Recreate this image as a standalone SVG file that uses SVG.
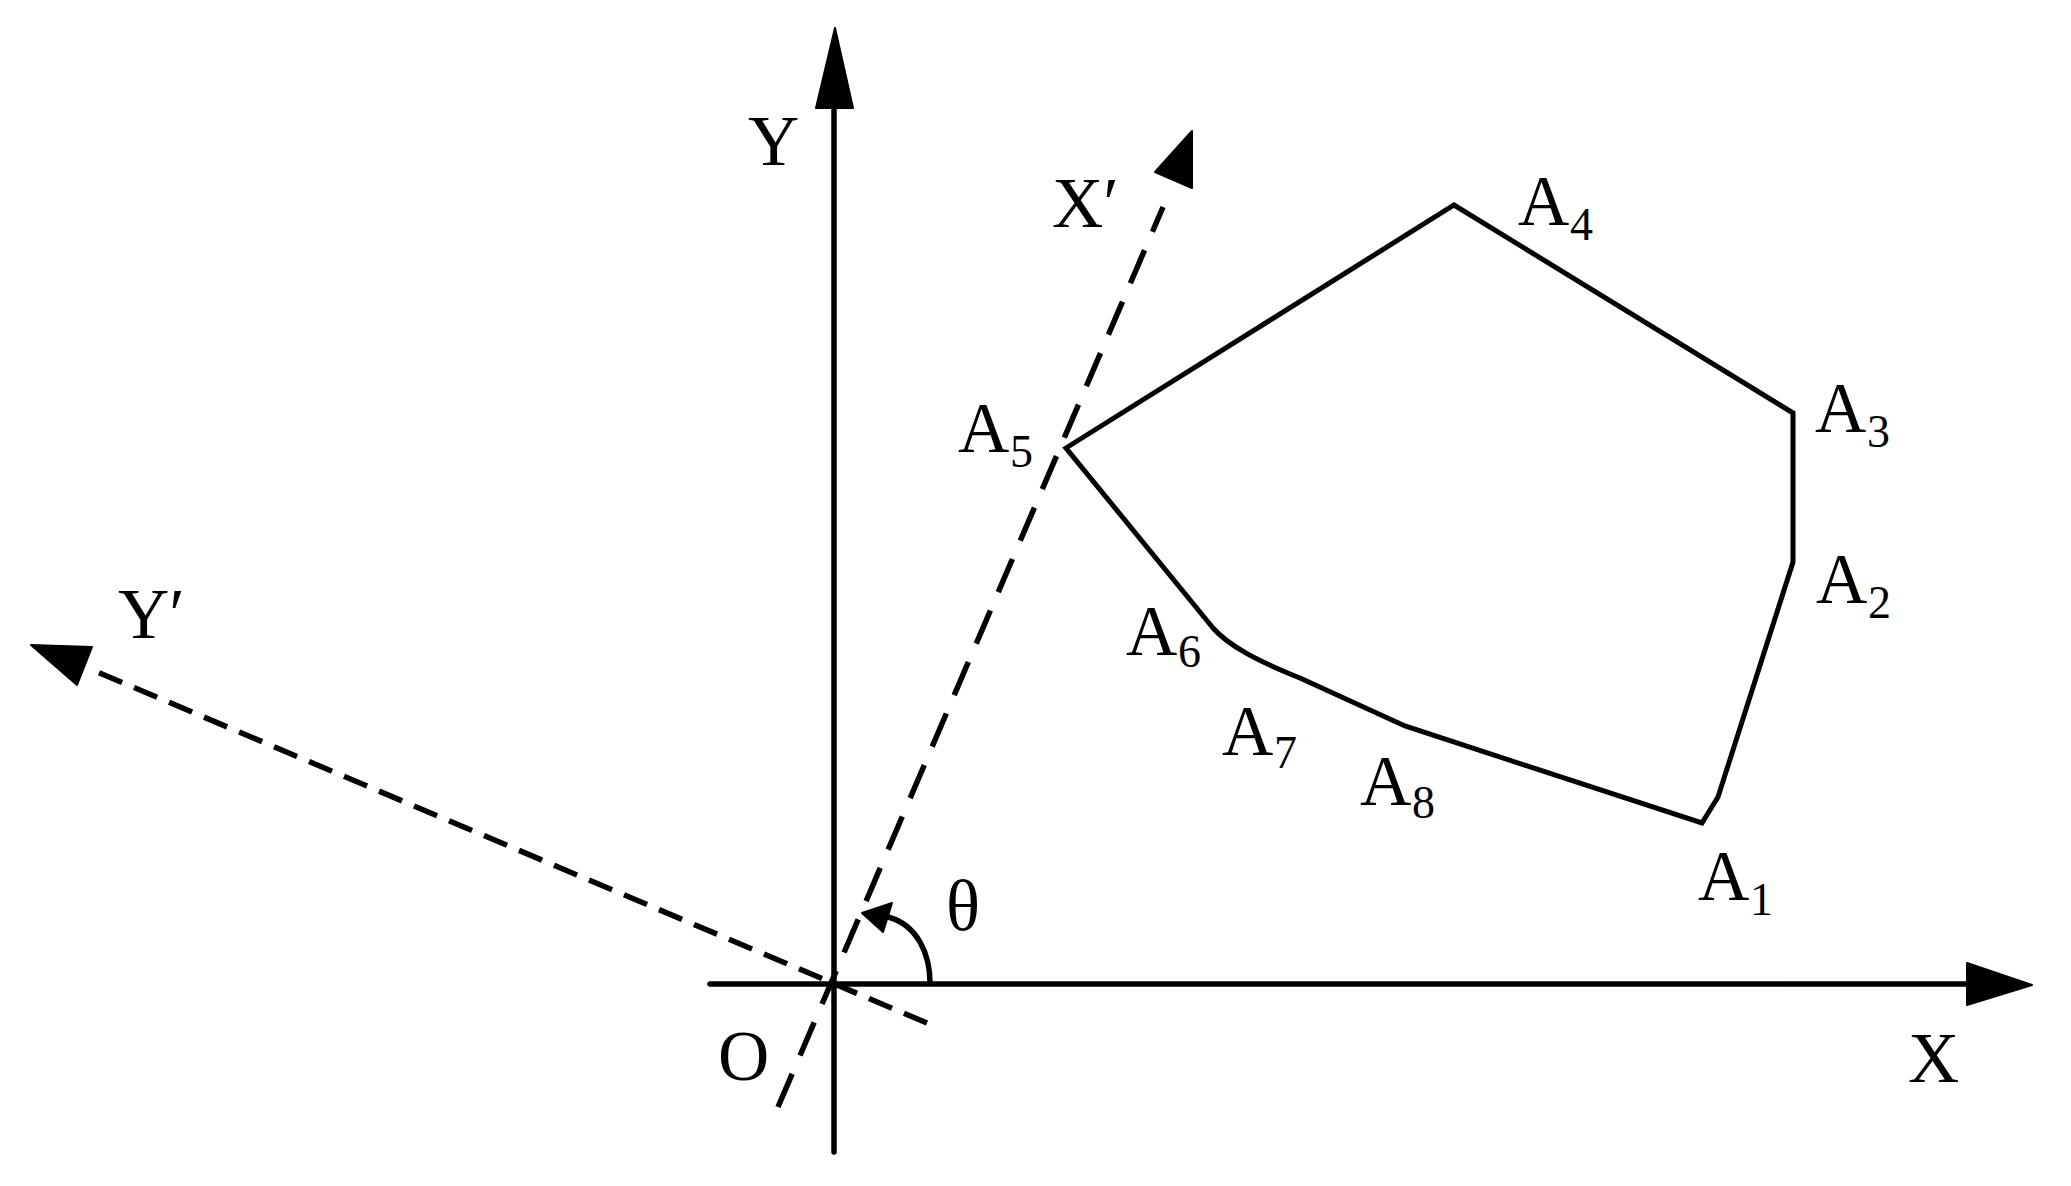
<svg xmlns="http://www.w3.org/2000/svg" width="2071" height="1186" viewBox="0 0 2071 1186">
<style>
.lbl{font-family:"Liberation Serif","Times New Roman",serif;font-size:71px;fill:#000}
.sub{font-family:"Liberation Serif","Times New Roman",serif;font-size:46px;fill:#000}
.axis{stroke:#000;stroke-width:5.5;fill:none;stroke-linecap:round}
.dash{stroke:#000;stroke-width:5.5;fill:none}
.poly{stroke:#000;stroke-width:5;fill:none;stroke-linejoin:miter}
.head{fill:#000;stroke:#000;stroke-width:2;stroke-linejoin:round}
</style>
<rect width="2071" height="1186" fill="#fff"/>
<g id="connectors">
<line class="axis" x1="834" y1="1152" x2="834" y2="105"/>
<polygon class="head" points="835,28 816,108 853,108"/>
<line class="axis" x1="710" y1="984" x2="1970" y2="984"/>
<polygon class="head" points="2032,985 1967,963 1967,1005"/>
<line class="dash" x1="778" y1="1107" x2="1163" y2="207" stroke-dasharray="36 20"/>
<polygon class="head" points="1192,131 1155,172 1192,188"/>
<line class="dash" x1="927" y1="1023" x2="88" y2="668" stroke-dasharray="25 13"/>
<polygon class="head" points="31,645 92,647 77,685"/>
<path class="axis" d="M930,983 C930,955 918,925 888,917"/>
<polygon class="head" points="862,913 892,903 883,932"/>
</g>
<g id="polygon">
<path class="poly" d="M1702,823 L1718,797 L1793,562 L1793,413 L1454,205 L1066,448 L1213,628 C1228,645 1255,660 1300,678 L1405,726 Z"/>
</g>
<g id="label-Y"><text class="lbl" x="748" y="165">Y</text></g>
<g id="label-Xp"><text class="lbl" x="1052" y="227">X′</text></g>
<g id="label-Yp"><text class="lbl" x="118" y="638">Y′</text></g>
<g id="label-X"><text class="lbl" x="1908" y="1082">X</text></g>
<g id="label-O"><text class="lbl" x="718" y="1080">O</text></g>
<g id="label-theta"><text class="lbl" x="946" y="930">θ</text></g>
<g id="A1"><text class="lbl" x="1698" y="900">A</text><text class="sub" x="1750" y="915">1</text></g>
<g id="A2"><text class="lbl" x="1816" y="603">A</text><text class="sub" x="1868" y="618">2</text></g>
<g id="A3"><text class="lbl" x="1815" y="432">A</text><text class="sub" x="1867" y="447">3</text></g>
<g id="A4"><text class="lbl" x="1518" y="225">A</text><text class="sub" x="1570" y="240">4</text></g>
<g id="A5"><text class="lbl" x="958" y="452">A</text><text class="sub" x="1010" y="467">5</text></g>
<g id="A6"><text class="lbl" x="1126" y="655">A</text><text class="sub" x="1178" y="667">6</text></g>
<g id="A7"><text class="lbl" x="1222" y="755">A</text><text class="sub" x="1274" y="768">7</text></g>
<g id="A8"><text class="lbl" x="1360" y="805">A</text><text class="sub" x="1412" y="818">8</text></g>
</svg>
